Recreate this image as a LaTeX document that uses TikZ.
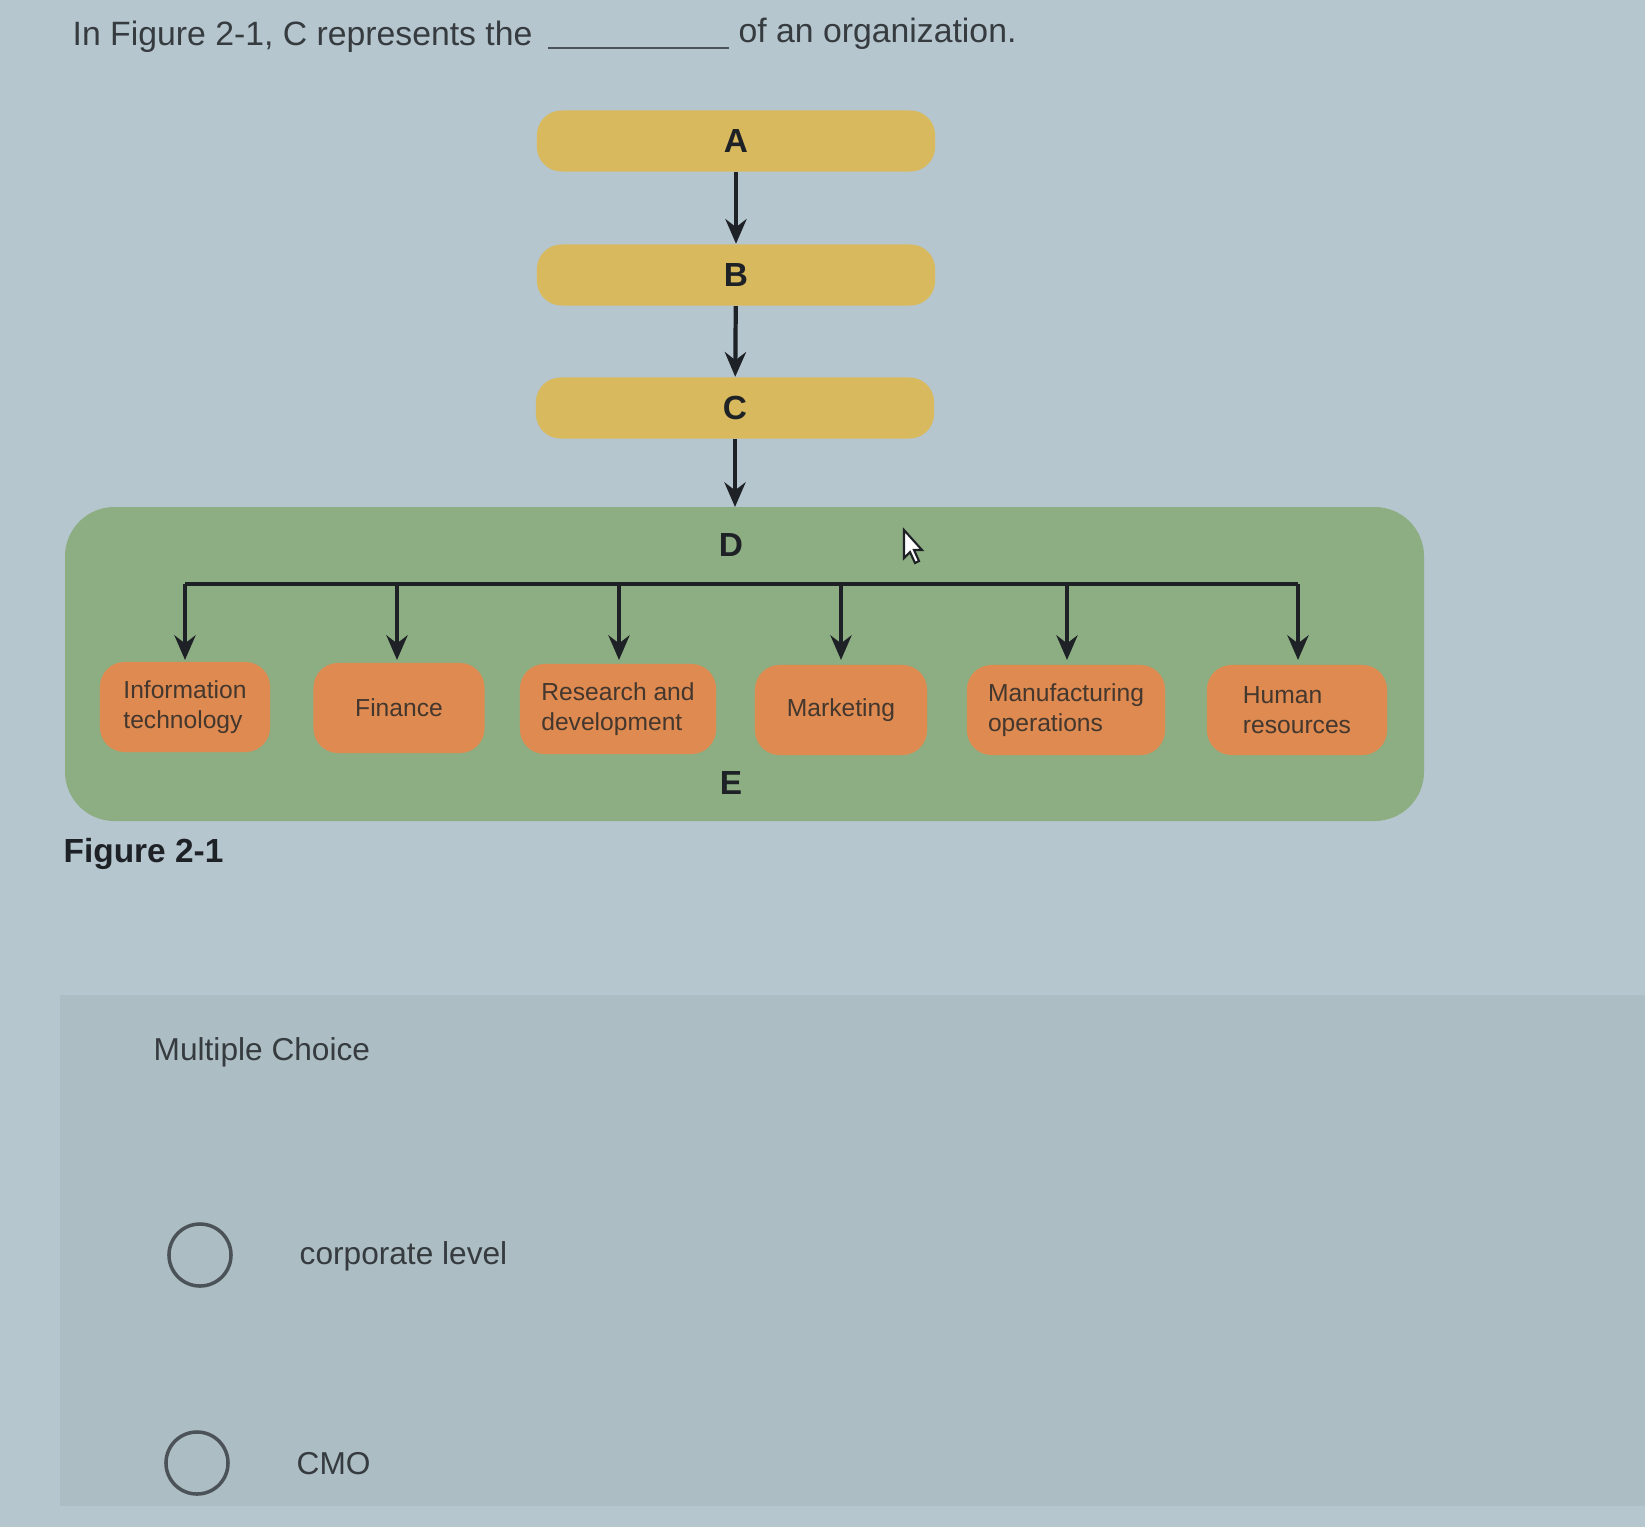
\documentclass[tikz,border=0pt]{standalone}
\usepackage{fontspec}
\setmainfont{Liberation Sans}
\usetikzlibrary{arrows.meta}
\definecolor{screen}{HTML}{B6C6CE}
\definecolor{panel}{HTML}{ACBDC4}
\definecolor{gold}{HTML}{D8B95E}
\definecolor{leaf}{HTML}{8DAE82}
\definecolor{rust}{HTML}{DE8A50}
\definecolor{ink}{HTML}{1E2226}
\tikzset{
  level/.style={fill=gold, rounded corners=7pt, minimum width=3.98cm, minimum height=0.61cm, font=\bfseries\fontsize{9.5}{10}\selectfont, text=ink},
  dept/.style={fill=rust, rounded corners=7pt, minimum height=0.9cm, align=left, font=\fontsize{7}{8.5}\selectfont, text=ink!80!rust},
  flow/.style={-{Stealth[length=7pt,width=6pt]}, line width=1.2pt, draw=ink},
  qtext/.style={font=\fontsize{9}{11}\selectfont, text=ink!85!screen, anchor=base west, inner sep=0pt},
  radio/.style={draw=ink!70!screen, line width=1pt, circle, minimum size=0.62cm}
}
\begin{document}
\begin{tikzpicture}[x=0.01cm, y=-0.01cm]
        % Background
        \fill[screen] (0,0) rectangle (1645,1527);
        \useasboundingbox (0,0) rectangle (1645,1527);

        % Question
        \node[qtext, font=\fontsize{9.6}{12}\selectfont] (q1) at (72,45) {In Figure 2-1, C represents the};
        \draw[ink!70!screen, line width=0.8pt] (548,48) -- (729,48);
        \node[qtext, font=\fontsize{9.6}{12}\selectfont] (q2) at (738,42) {of an organization.};

        % Upper levels
        \node[level] (A) at (736,141) {A};
        \node[level] (B) at (736,275) {B};
        \node[level] (C) at (735,408) {C};

        % Green band
        \fill[leaf, rounded corners=14pt] (65,507) rectangle (1424,821);
        \node[font=\bfseries\fontsize{9.5}{10}\selectfont, text=ink] (D) at (731,545) {D};
        \node[font=\bfseries\fontsize{9.5}{10}\selectfont, text=ink] (E) at (731,783) {E};

        \draw[flow] (A) -- (B);
        \draw[flow] (B) -- (C);
        \draw[flow] (C.south) -- (735,507);

        % Departments
        \node[dept, minimum width=1.7cm] (it) at (185,707) {Information\\technology};
        \node[dept, minimum width=1.71cm] (fin) at (399,708) {Finance};
        \node[dept, minimum width=1.96cm] (rd) at (618,709) {Research and\\development};
        \node[dept, minimum width=1.72cm] (mkt) at (841,710) {Marketing};
        \node[dept, minimum width=1.98cm] (man) at (1066,710) {Manufacturing\\operations};
        \node[dept, minimum width=1.8cm] (hr) at (1297,710) {Human\\resources};

        \draw[line width=1.2pt, ink] (185,584) -- (1298,584);
        \foreach \d/\x in {it/185, fin/397, rd/619, mkt/841, man/1067, hr/1298}
          \draw[flow] (\x,584) -- (\x,660);

        % Pointer
        \fill[white, draw=ink, line width=0.6pt] (904,530) -- (904,558) -- (910,552) -- (915,563) -- (919,561) -- (914,550) -- (922,550) -- cycle;

        \node[font=\bfseries\fontsize{9.5}{11}\selectfont, text=ink, anchor=base west, inner sep=0pt] (fig) at (63,862) {Figure 2-1};

        % Answer panel
        \fill[panel] (60,995) rectangle (1645,1506);
        \node[qtext] (mc) at (153,1060) {Multiple Choice};
        \node[radio] (r1) at (200,1255) {};
        \node[qtext] (a1) at (299,1264) {corporate level};
        \node[radio] (r2) at (197,1463) {};
        \node[qtext] (a2) at (296,1474) {CMO};
\end{tikzpicture}
\end{document}
